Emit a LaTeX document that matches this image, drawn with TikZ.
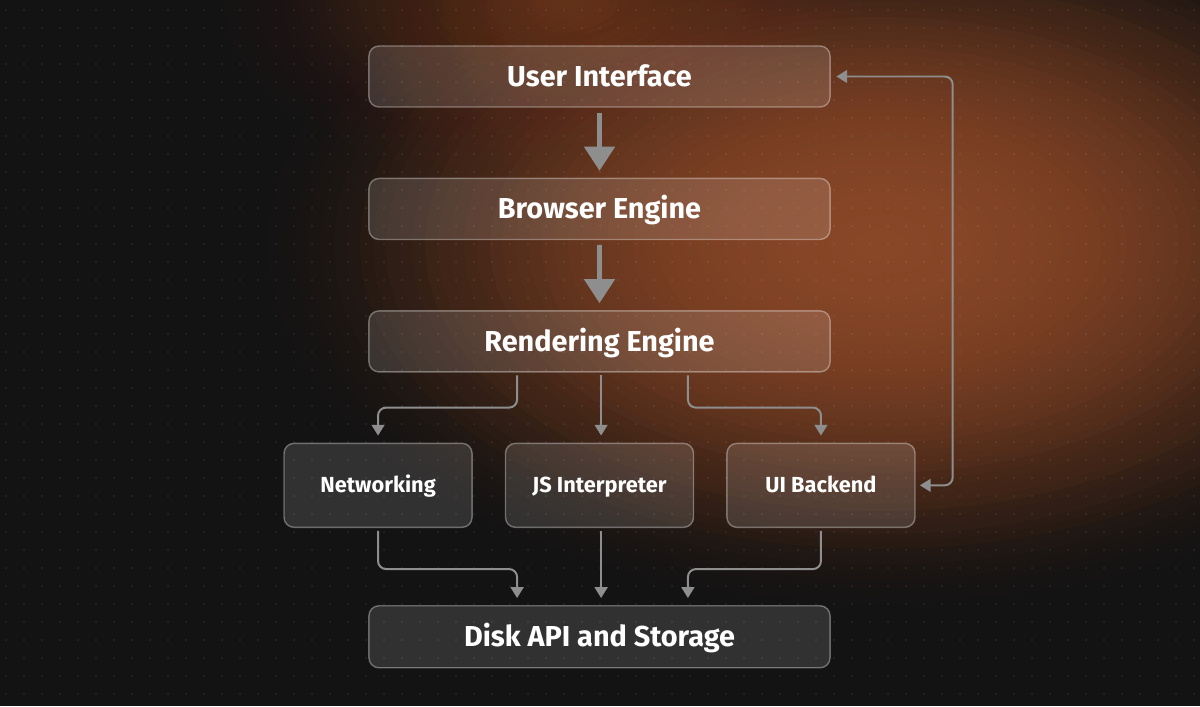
\documentclass[tikz,border=0pt]{standalone}
\usepackage{fontspec}
\setmainfont{Fira Sans}
\usetikzlibrary{positioning, calc, arrows.meta}
\definecolor{bgdark}{HTML}{141313}
\definecolor{glowamber}{HTML}{93502F}
\definecolor{linegray}{HTML}{8E8E8E}
\tikzstyle{layer} = [rectangle, rounded corners=0.25cm, minimum width=11.525cm, minimum height=1.525cm, text centered, text height=14.1pt, text depth=0pt, draw=white, draw opacity=0.35, line width=1pt, fill=white, fill opacity=0.13, text opacity=1, text=white, font=\fontsize{20.5}{24}\selectfont\bfseries]
\tikzstyle{module} = [layer, minimum width=4.7cm, minimum height=2.1cm, text height=10.7pt, font=\fontsize{15.5}{18}\selectfont\bfseries]
\tikzstyle{flow} = [line width=3.5pt, draw=linegray, -{Triangle[width=0.75cm, length=0.6cm]}, shorten <=3.5pt, shorten >=5pt]
\tikzstyle{link} = [line width=1.4pt, draw=linegray, rounded corners=0.2cm, -{Triangle[width=0.32cm, length=0.27cm]}, shorten <=2pt, shorten >=5pt]

\begin{document}
\begin{tikzpicture}[x=0.025cm, y=-0.025cm, node distance=1.75cm]

% Background
\useasboundingbox (0,0) rectangle (1200,706);
\clip (0,0) rectangle (1200,706);
\fill [bgdark] (0,0) rectangle (1200,706);
\foreach \k [evaluate=\k as \a using {0.16*(1-\k/51)}] in {1,...,50}
  \fill [glowamber, opacity=\a] (880,245) ellipse [x radius=13*\k, y radius=7.6*\k];
\foreach \k [evaluate=\k as \a using {0.05*(1-\k/51)}] in {1,...,50}
  \fill [glowamber, opacity=\a] (560,0) ellipse [x radius=8.4*\k, y radius=4.6*\k];
\foreach \i in {0,...,66}
  \foreach \j in {0,...,38}
    \fill [white, opacity=0.07] (6+18*\i, 10+18*\j) circle (0.9pt);

% Main stack
\node (ui) [layer] at (599.5,76.5) {User Interface};
\node (browser) [layer, below=of ui] {Browser Engine};
\node (render) [layer, below=of browser] {Rendering Engine};

% Subsystems
\node (js) [module, below=of render] {JS Interpreter};
\node (net) [module, left=0.8cm of js] {Networking};
\node (uib) [module, right=0.8cm of js] {UI Backend};

% Storage
\node (disk) [layer, below=1.925cm of js, minimum height=1.55cm] {Disk API and Storage};

% Arrows
\draw [flow] (ui) -- (browser);
\draw [flow] (browser) -- (render);
\draw [link] ([xshift=-2.06cm]render.south) -- ++(0,-0.875cm) -| (net.north);
\draw [link] ([xshift=0.04cm]render.south) -- ([xshift=0.04cm]js.north);
\draw [link] ([xshift=2.21cm]render.south) -- ++(0,-0.875cm) -| (uib.north);
\draw [link] (net.south) -- ++(0,-1.025cm) -| ([xshift=-2.06cm]disk.north);
\draw [link] ([xshift=0.04cm]js.south) -- ([xshift=0.04cm]disk.north);
\draw [link] (uib.south) -- ++(0,-1.025cm) -| ([xshift=2.21cm]disk.north);
\draw [link, {Triangle[width=0.32cm, length=0.27cm]}-{Triangle[width=0.32cm, length=0.27cm]}, shorten <=3pt, shorten >=4pt] (uib.east) -- ++(0.925cm,0) |- (ui.east);

\end{tikzpicture}
\end{document}
